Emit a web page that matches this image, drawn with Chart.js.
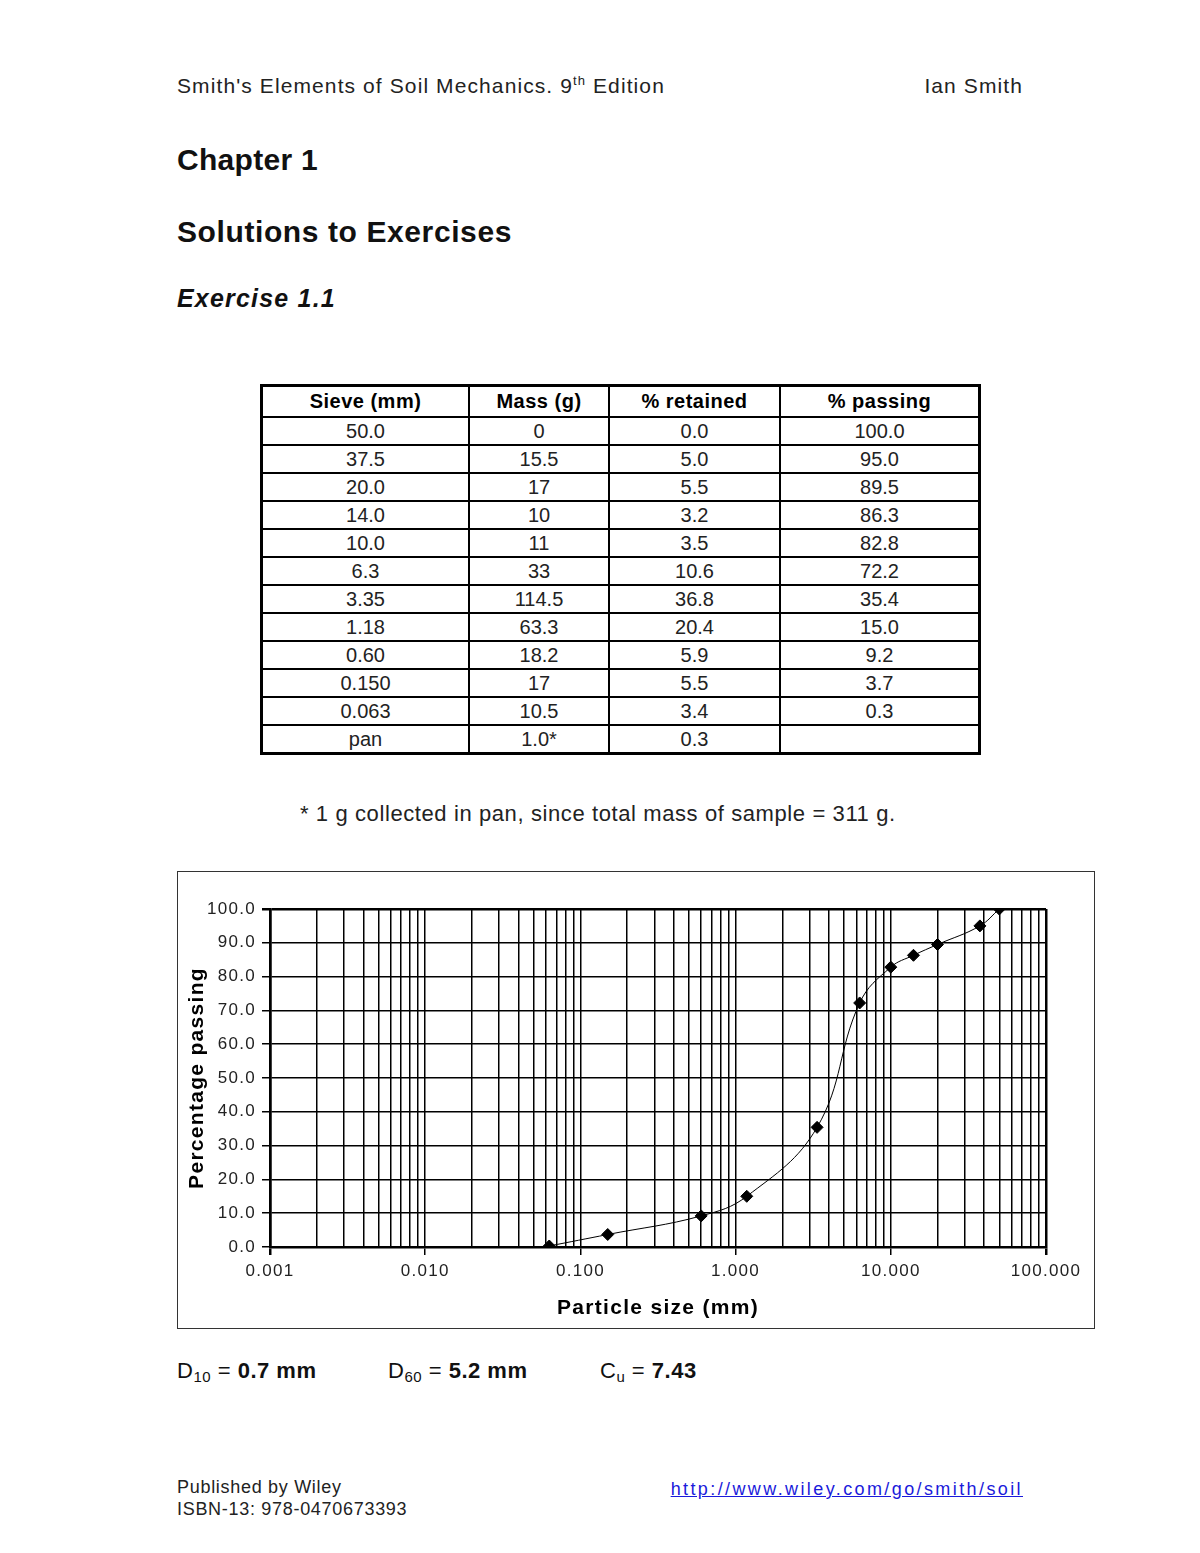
<!DOCTYPE html>
<html>
<head>
<meta charset="utf-8">
<script src="https://cdn.jsdelivr.net/npm/chart.js@4"></script>
<style>
  body { margin: 0; background: #fff; font-family: "Liberation Sans", Arial, sans-serif; color: #111; }
  .page { position: relative; width: 1200px; height: 1553px; }
  .abs { position: absolute; white-space: nowrap; line-height: 1; }
  table.sieve { position: absolute; left: 260px; top: 384px; border-collapse: collapse; border: 3px solid #000; font-size: 20px; }
  table.sieve td, table.sieve th { border: 2px solid #000; text-align: center; padding: 0; height: 26px; color: #222; }
  table.sieve th { height: 29px; font-weight: bold; color: #000; letter-spacing: 0.5px; }
  #chartBox { position: absolute; left: 177px; top: 871px; width: 918px; height: 458px; border: 1px solid #333; box-sizing: border-box; }
  sub { font-size: 15px; vertical-align: -4px; line-height: 0; }
  a { color: #1a1adb; }
</style>
</head>
<body>
<div class="page">
  <div class="abs" style="left:177px; top:75px; font-size:21px; letter-spacing:1.1px; color:#222;">Smith's Elements of Soil Mechanics. 9<sup style="font-size:13px; vertical-align:8px; line-height:0;">th</sup> Edition</div>
  <div class="abs" style="right:177px; top:75px; font-size:21px; letter-spacing:1.1px; color:#222;">Ian Smith</div>
  <div class="abs" style="left:177px; top:145px; font-size:30px; font-weight:bold; letter-spacing:0.3px;">Chapter 1</div>
  <div class="abs" style="left:177px; top:217px; font-size:30px; font-weight:bold; letter-spacing:0.6px;">Solutions to Exercises</div>
  <div class="abs" style="left:177px; top:286px; font-size:25px; font-weight:bold; font-style:italic; letter-spacing:1.2px;">Exercise 1.1</div>

  <table class="sieve" id="sieveTable"></table>

  <div class="abs" style="left:300px; top:803px; font-size:22px; letter-spacing:0.6px; color:#222;">* 1 g collected in pan, since total mass of sample = 311 g.</div>

  <div id="chartBox"><canvas id="gradingChart" width="916" height="456"></canvas></div>

  <div class="abs" style="left:177px; top:1360px; font-size:22px; letter-spacing:0.5px;">D<sub>10</sub> = <b>0.7 mm</b></div>
  <div class="abs" style="left:388px; top:1360px; font-size:22px; letter-spacing:0.5px;">D<sub>60</sub> = <b>5.2 mm</b></div>
  <div class="abs" style="left:600px; top:1360px; font-size:22px; letter-spacing:0.5px;">C<sub>u</sub> = <b>7.43</b></div>

  <div class="abs" style="left:177px; top:1478px; font-size:18px; letter-spacing:0.7px; color:#222;">Published by Wiley</div>
  <div class="abs" style="left:177px; top:1500px; font-size:18px; letter-spacing:0.7px; color:#222;">ISBN-13: 978-0470673393</div>
  <div class="abs" style="right:177px; top:1480px; font-size:18px; letter-spacing:2.4px;"><a href="#">http://www.wiley.com/go/smith/soil</a></div>
</div>

<script>
// sieve analysis data (Exercise 1.1)
const sieveLabels = ['50.0', '37.5', '20.0', '14.0', '10.0', '6.3', '3.35', '1.18', '0.60', '0.150', '0.063', 'pan'];
const massRetained = ['0', '15.5', '17', '10', '11', '33', '114.5', '63.3', '18.2', '17', '10.5', '1.0*'];
const pctRetained = ['0.0', '5.0', '5.5', '3.2', '3.5', '10.6', '36.8', '20.4', '5.9', '5.5', '3.4', '0.3'];
const pctPassing = [100.0, 95.0, 89.5, 86.3, 82.8, 72.2, 35.4, 15.0, 9.2, 3.7, 0.3, null];

const tableHeaders = ['Sieve (mm)', 'Mass (g)', '% retained', '% passing'];
const colWidths = [207, 140, 171, 199];

// axis ticks
const xDecades = [0.001, 0.01, 0.1, 1, 10, 100];
const xMinorSteps = [1, 2, 3, 4, 5, 6, 7, 8, 9];
const yTicks = [0, 10, 20, 30, 40, 50, 60, 70, 80, 90, 100];

// build the table
const table = document.getElementById('sieveTable');
let html = '<tr>' + tableHeaders.map((h, i) => `<th style="width:${colWidths[i] - 2}px">${h}</th>`).join('') + '</tr>';
sieveLabels.forEach((s, i) => {
  const p = pctPassing[i] === null ? '' : pctPassing[i].toFixed(1);
  html += `<tr><td>${s}</td><td>${massRetained[i]}</td><td>${pctRetained[i]}</td><td>${p}</td></tr>`;
});
table.innerHTML = html;

// chart points: sieve sizes that have a % passing value
const points = [];
sieveLabels.forEach((s, i) => {
  if (pctPassing[i] !== null) points.push({ x: parseFloat(s), y: pctPassing[i] });
});

const isDecade = (v) => Math.abs(Math.log10(v) - Math.round(Math.log10(v))) < 1e-9;

// the old Excel-style text is spaced out a bit; canvas state gets reset on init, so set it per draw
const spacedText = {
  id: 'spacedText',
  beforeLayout: (chart) => { chart.ctx.letterSpacing = '1.3px'; },
  beforeDraw: (chart) => { chart.ctx.letterSpacing = '1.3px'; },
};

const ctx = document.getElementById('gradingChart').getContext('2d');
new Chart(ctx, {
  type: 'line',
  plugins: [spacedText],
  data: {
    datasets: [{
      data: points,
      borderColor: '#000',
      borderWidth: 1,
      tension: 0.4,
      pointStyle: 'rectRot',
      pointRadius: 6,
      pointBackgroundColor: '#000',
      pointBorderColor: '#000',
      fill: false,
    }],
  },
  options: {
    responsive: false,
    animation: false,
    layout: { padding: { top: 37, right: 48, left: 0, bottom: 0 } },
    plugins: { legend: { display: false }, tooltip: { enabled: false } },
    scales: {
      x: {
        type: 'logarithmic',
        min: xDecades[0],
        max: xDecades[xDecades.length - 1],
        afterBuildTicks: (scale) => {
          const t = [];
          xDecades.slice(0, -1).forEach((d) => xMinorSteps.forEach((m) => t.push({ value: d * m })));
          t.push({ value: xDecades[xDecades.length - 1] });
          scale.ticks = t;
        },
        afterFit: (scale) => { scale.height = 81; },
        ticks: {
          autoSkip: false,
          maxRotation: 0,
          padding: 6,
          color: '#222',
          font: { family: '"Liberation Sans", Arial', size: 17 },
          callback: (value) => (isDecade(value) ? Number(value).toFixed(3) : ''),
        },
        grid: {
          color: '#000',
          lineWidth: (c) => (c.index === 0 || (c.tick && c.tick.value === 100) ? 2.5 : 1.5),
          tickLength: 8,
          tickColor: (c) => (c.tick && isDecade(c.tick.value) ? '#000' : 'rgba(0,0,0,0)'),
        },
        border: { color: '#000', width: 2.5 },
        title: {
          display: true,
          text: 'Particle size (mm)',
          color: '#000',
          font: { family: '"Liberation Sans", Arial', size: 21, weight: 'bold' },
          padding: { top: 6, bottom: 7 },
        },
      },
      y: {
        min: 0,
        max: 100,
        afterBuildTicks: (scale) => { scale.ticks = yTicks.map((v) => ({ value: v })); },
        afterFit: (scale) => { scale.width = 92; },
        ticks: {
          padding: 6,
          color: '#222',
          font: { family: '"Liberation Sans", Arial', size: 17 },
          callback: (value) => Number(value).toFixed(1),
        },
        grid: {
          color: '#000',
          lineWidth: (c) => (c.tick && c.tick.value === 100 ? 2.5 : 1.5),
          tickLength: 8,
        },
        border: { color: '#000', width: 2.5 },
        title: {
          display: true,
          text: 'Percentage passing',
          color: '#000',
          font: { family: '"Liberation Sans", Arial', size: 21, weight: 'bold' },
          padding: { top: 7, bottom: 4 },
        },
      },
    },
  },
});
</script>
</body>
</html>
